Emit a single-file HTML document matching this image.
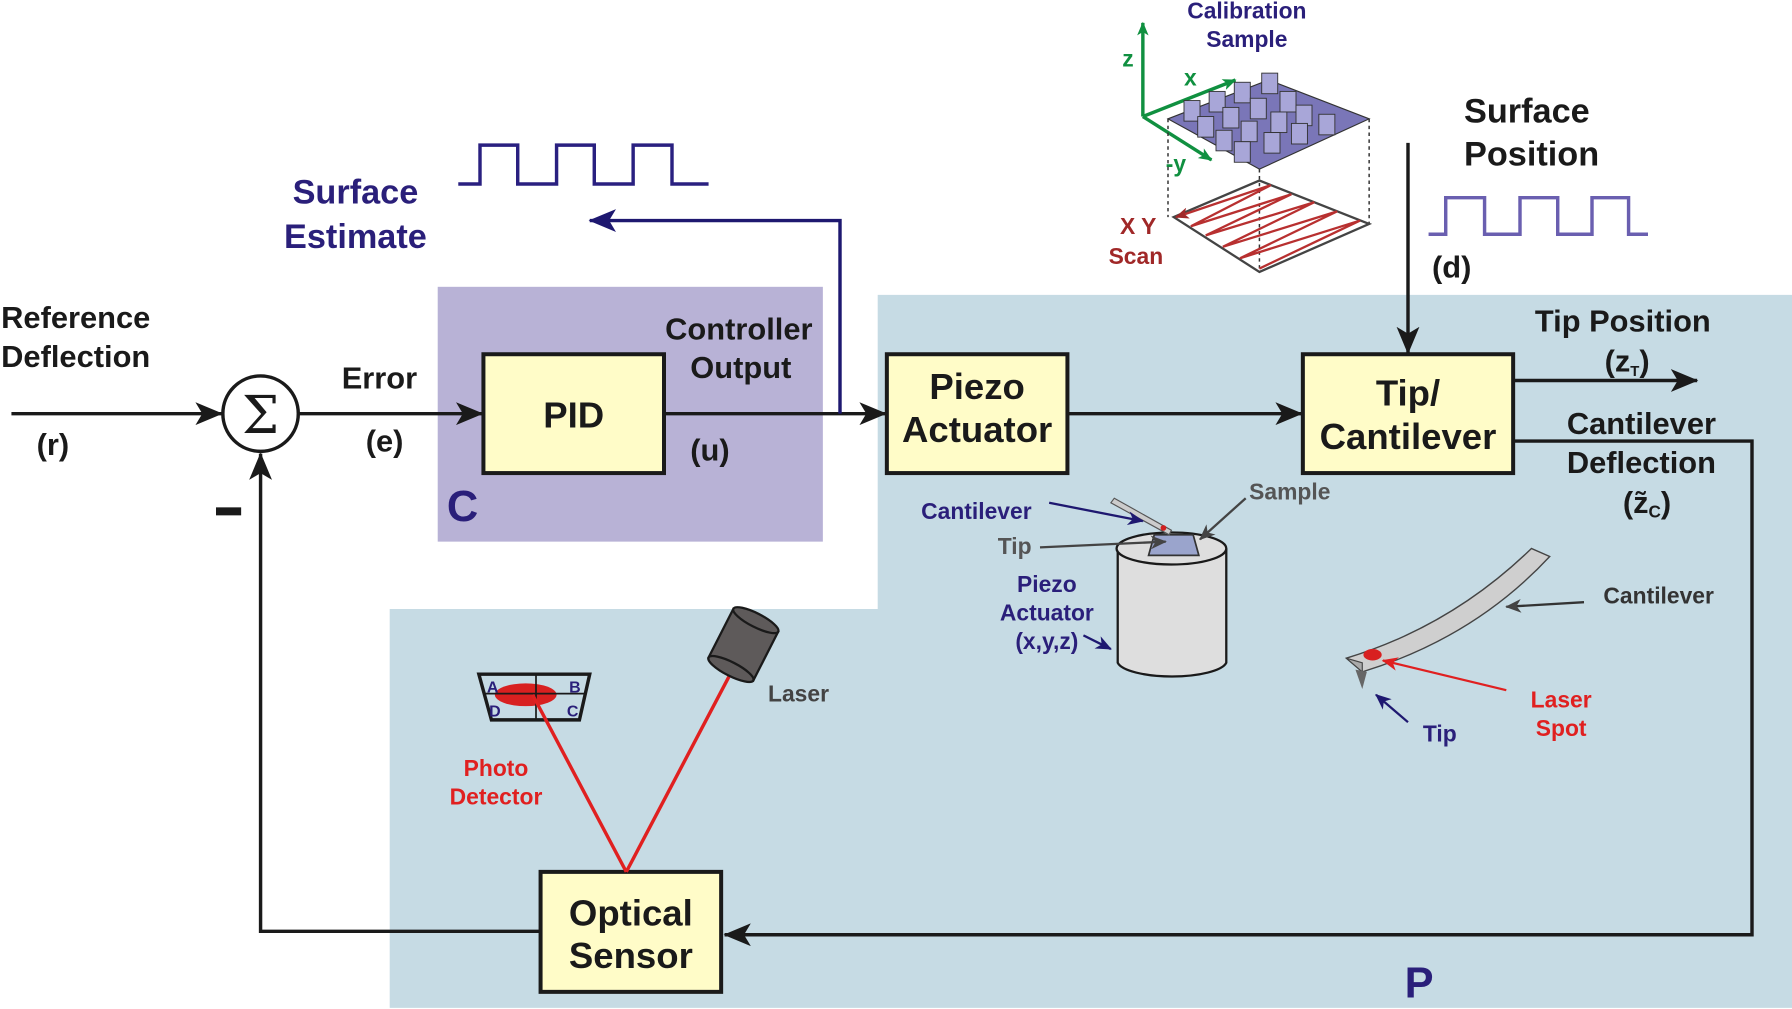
<!DOCTYPE html>
<html><head><meta charset="utf-8"><style>html,body{margin:0;padding:0;background:#fff}svg{display:block}</style></head>
<body>
<svg width="1792" height="1009" viewBox="0 0 1568 883" preserveAspectRatio="none" xmlns="http://www.w3.org/2000/svg" font-family="'Liberation Sans', sans-serif" font-weight="bold">
<defs>
<marker id="a" viewBox="0 0 24 20" markerWidth="24" markerHeight="20" refX="23" refY="10" orient="auto" markerUnits="userSpaceOnUse"><path d="M0,0 L24,10 L0,20 L6,10 Z" fill="#1a1a1a"/></marker>
<marker id="an" viewBox="0 0 24 20" markerWidth="24" markerHeight="20" refX="23" refY="10" orient="auto" markerUnits="userSpaceOnUse"><path d="M0,0 L24,10 L0,20 L6,10 Z" fill="#1e1870"/></marker>
<marker id="sn" viewBox="0 0 14 12" markerWidth="14" markerHeight="12" refX="13" refY="6" orient="auto" markerUnits="userSpaceOnUse"><path d="M0,0 L14,6 L0,12 L4,6 Z" fill="#1e1870"/></marker>
<marker id="sg" viewBox="0 0 14 12" markerWidth="14" markerHeight="12" refX="13" refY="6" orient="auto" markerUnits="userSpaceOnUse"><path d="M0,0 L14,6 L0,12 L4,6 Z" fill="#444"/></marker>
<marker id="sr" viewBox="0 0 14 12" markerWidth="14" markerHeight="12" refX="13" refY="6" orient="auto" markerUnits="userSpaceOnUse"><path d="M0,0 L14,6 L0,12 L4,6 Z" fill="#e02020"/></marker>
<marker id="sgr" viewBox="0 0 12 10" markerWidth="12" markerHeight="10" refX="11" refY="5" orient="auto" markerUnits="userSpaceOnUse"><path d="M0,0 L12,5 L0,10 L3,5 Z" fill="#109040"/></marker>
<marker id="sbr" viewBox="0 0 12 10" markerWidth="12" markerHeight="10" refX="11" refY="5" orient="auto" markerUnits="userSpaceOnUse"><path d="M0,0 L12,5 L0,10 L3,5 Z" fill="#a02828"/></marker>
</defs>

<polygon points="768,258 1568,258 1568,882 341,882 341,533 768,533" fill="#c6dbe4"/>
<rect x="383" y="251" width="337" height="223" fill="#b8b2d6"/>

<polyline points="401,161 420,161 420,127 453,127 453,161 487,161 487,127 520,127 520,161 554,161 554,127 588,127 588,161 620,161" fill="none" stroke="#2a2080" stroke-width="3"/>
<polyline points="1250,205 1265,205 1265,173 1299,173 1299,205 1330,205 1330,173 1363,173 1363,205 1393,205 1393,173 1425,173 1425,205 1442,205" fill="none" stroke="#6a5fb0" stroke-width="3"/>

<line x1="10" y1="362" x2="194" y2="362" stroke="#1a1a1a" stroke-width="3" marker-end="url(#a)"/>
<circle cx="228" cy="362" r="33" fill="#fff" stroke="#1a1a1a" stroke-width="3"/>
<text x="228" y="379" font-family="'DejaVu Serif', serif" font-weight="normal" font-size="46" text-anchor="middle" fill="#1a1a1a">Σ</text>
<line x1="262" y1="362" x2="422" y2="362" stroke="#1a1a1a" stroke-width="3" marker-end="url(#a)"/>
<line x1="581" y1="362" x2="775" y2="362" stroke="#1a1a1a" stroke-width="3" marker-end="url(#a)"/>
<polyline points="735,362 735,193 516,193" fill="none" stroke="#1e1870" stroke-width="3" marker-end="url(#an)"/>
<line x1="934" y1="362" x2="1139" y2="362" stroke="#1a1a1a" stroke-width="3" marker-end="url(#a)"/>
<line x1="1232" y1="125" x2="1232" y2="309" stroke="#1a1a1a" stroke-width="3" marker-end="url(#a)"/>
<line x1="1324" y1="333" x2="1485" y2="333" stroke="#1a1a1a" stroke-width="3" marker-end="url(#a)"/>
<polyline points="1324,386 1533,386 1533,818 634,818" fill="none" stroke="#1a1a1a" stroke-width="3" marker-end="url(#a)"/>
<polyline points="473,815 228,815 228,397" fill="none" stroke="#1a1a1a" stroke-width="3" marker-end="url(#a)"/>
<rect x="189" y="444" width="22" height="7" fill="#1a1a1a"/>

<g fill="#fffcc8" stroke="#1a1a1a" stroke-width="3.5">
<rect x="423" y="310" width="158" height="104"/>
<rect x="776" y="310" width="158" height="104"/>
<rect x="1140" y="310" width="184" height="104"/>
<rect x="473" y="763" width="158" height="105"/>
</g>
<g fill="#1a1a1a" text-anchor="middle">
<text x="502" y="374" font-size="32">PID</text>
<text x="855" y="349" font-size="32">Piezo</text>
<text x="855" y="387" font-size="32">Actuator</text>
<text x="1232" y="355" font-size="32">Tip/</text>
<text x="1232" y="393" font-size="32">Cantilever</text>
<text x="552" y="810" font-size="32">Optical</text>
<text x="552" y="847" font-size="32">Sensor</text>
</g>

<g fill="#1a1a1a" font-size="27">
<text x="1" y="287">Reference</text>
<text x="1" y="321">Deflection</text>
<text x="32" y="398">(r)</text>
<text x="299" y="340">Error</text>
<text x="320" y="395">(e)</text>
<text x="582" y="297">Controller</text>
<text x="604" y="331">Output</text>
<text x="604" y="403">(u)</text>
<text x="1281" y="107" font-size="30">Surface</text>
<text x="1281" y="145" font-size="30">Position</text>
<text x="1253" y="243">(d)</text>
<text x="1343" y="290">Tip Position</text>
<text x="1404" y="325">(z<tspan font-size="13" dy="4">T</tspan><tspan dy="-4">)</tspan></text>
<text x="1371" y="380">Cantilever</text>
<text x="1371" y="414">Deflection</text>
<text x="1420" y="449">(z̃<tspan font-size="15" dy="4">C</tspan><tspan dy="-4">)</tspan></text>
</g>
<g fill="#2a1f7a">
<text x="311" y="178" font-size="30" text-anchor="middle">Surface</text>
<text x="311" y="217" font-size="30" text-anchor="middle">Estimate</text>
<text x="391" y="456" font-size="38">C</text>
<text x="1229" y="873" font-size="38">P</text>
<text x="1091" y="16" font-size="20" text-anchor="middle">Calibration</text>
<text x="1091" y="41" font-size="20" text-anchor="middle">Sample</text>
</g>

<g stroke="#109040" stroke-width="3" fill="none">
<line x1="1000" y1="102" x2="1000" y2="20" marker-end="url(#sgr)"/>
<line x1="1000" y1="102" x2="1081" y2="70" marker-end="url(#sgr)"/>
<line x1="1000" y1="102" x2="1060" y2="140" marker-end="url(#sgr)"/>
</g>
<g fill="#109040" font-size="20"><text x="982" y="58">z</text><text x="1036" y="75">x</text><text x="1020" y="150">-y</text></g>
<g stroke="#333" stroke-width="1.3" stroke-dasharray="3,3" fill="none">
<line x1="1022" y1="104" x2="1022" y2="190"/><line x1="1198" y1="104" x2="1198" y2="196"/><line x1="1102" y1="148" x2="1102" y2="238"/>
</g>
<polygon points="1022,104 1110,70 1198,104 1102,148" fill="#7a76b8" stroke="#333" stroke-width="1"/>
<g fill="#a8a6d8" stroke="#333" stroke-width="0.8">
<rect x="1036" y="88" width="14" height="18"/><rect x="1058" y="80" width="14" height="18"/><rect x="1080" y="72" width="14" height="18"/><rect x="1104" y="64" width="14" height="18"/>
<rect x="1048" y="102" width="14" height="18"/><rect x="1070" y="94" width="14" height="18"/><rect x="1094" y="86" width="14" height="18"/><rect x="1120" y="80" width="14" height="18"/>
<rect x="1064" y="114" width="14" height="18"/><rect x="1086" y="106" width="14" height="18"/><rect x="1112" y="98" width="14" height="18"/><rect x="1134" y="92" width="14" height="18"/>
<rect x="1080" y="124" width="14" height="18"/><rect x="1106" y="116" width="14" height="18"/><rect x="1130" y="108" width="14" height="18"/><rect x="1154" y="100" width="14" height="18"/>
</g>
<polygon points="1027,190 1102,158 1198,196 1102,238" fill="none" stroke="#444" stroke-width="2"/>
<polyline points="1102,235 1190,193 1085,226 1170,185 1070,216 1150,177 1055,206 1130,170 1042,198 1112,162 1029,190" fill="none" stroke="#b83030" stroke-width="2" marker-end="url(#sbr)"/>
<g fill="#a02828" font-size="20"><text x="980" y="205">X Y</text><text x="970" y="231">Scan</text></g>

<path d="M978,480 L978,580 A48,14 0 0 0 1073,580 L1073,480" fill="#dedede" stroke="#1a1a1a" stroke-width="2"/>
<ellipse cx="1025" cy="480" rx="48" ry="14" fill="#dedede" stroke="#1a1a1a" stroke-width="2"/>
<polygon points="1010,468 1044,468 1049,486 1005,486" fill="#9aa4cc" stroke="#333" stroke-width="1.5"/>
<path d="M972,440 L975,436 L1025,464 L1023,468 Z" fill="#ccc" stroke="#555" stroke-width="1"/>
<circle cx="1018" cy="462" r="2.5" fill="#d02020"/>
<line x1="918" y1="440" x2="1000" y2="456" stroke="#1e1870" stroke-width="2" marker-end="url(#sn)"/>
<line x1="910" y1="479" x2="1020" y2="474" stroke="#444" stroke-width="2" marker-end="url(#sg)"/>
<line x1="1090" y1="436" x2="1050" y2="472" stroke="#444" stroke-width="2" marker-end="url(#sg)"/>
<line x1="948" y1="556" x2="972" y2="568" stroke="#1e1870" stroke-width="2" marker-end="url(#sn)"/>
<g font-size="20">
<text x="806" y="454" fill="#2a1f7a">Cantilever</text>
<text x="873" y="485" fill="#555">Tip</text>
<text x="1093" y="437" fill="#555">Sample</text>
<text x="916" y="518" fill="#2a1f7a" text-anchor="middle">Piezo</text>
<text x="916" y="543" fill="#2a1f7a" text-anchor="middle">Actuator</text>
<text x="916" y="568" fill="#2a1f7a" text-anchor="middle">(x,y,z)</text>
</g>

<path d="M1178,576 Q1270,548 1340,480 L1356,487 Q1290,558 1192,588 Z" fill="#cfcfcf" stroke="#444" stroke-width="1.2"/>
<path d="M1178,576 L1192,588 L1192,580 Z" fill="#aaa" stroke="#444" stroke-width="1"/>
<path d="M1186,586 L1192,603 L1196,588 Z" fill="#666"/>
<ellipse cx="1201" cy="573" rx="8" ry="5" fill="#d82020"/>
<line x1="1386" y1="527" x2="1318" y2="531" stroke="#333" stroke-width="2" marker-end="url(#sg)"/>
<line x1="1318" y1="604" x2="1210" y2="578" stroke="#e02020" stroke-width="2" marker-end="url(#sr)"/>
<line x1="1232" y1="632" x2="1204" y2="608" stroke="#1e1870" stroke-width="2" marker-end="url(#sn)"/>
<g font-size="20">
<text x="1403" y="528" fill="#333">Cantilever</text>
<text x="1366" y="619" fill="#e02020" text-anchor="middle">Laser</text>
<text x="1366" y="644" fill="#e02020" text-anchor="middle">Spot</text>
<text x="1245" y="649" fill="#2a1f7a">Tip</text>
</g>

<line x1="640" y1="588" x2="548" y2="763" stroke="#e02020" stroke-width="3"/>
<polygon points="419,590 516,590 507,630 430,630" fill="#c6dbe4" stroke="#1a1a1a" stroke-width="3"/>
<ellipse cx="460" cy="608" rx="27" ry="10" fill="#d82020"/>
<line x1="469" y1="590" x2="469" y2="630" stroke="#1a1a1a" stroke-width="1.5"/>
<line x1="423" y1="607" x2="512" y2="607" stroke="#1a1a1a" stroke-width="1.5"/>
<line x1="466" y1="608" x2="548" y2="763" stroke="#e02020" stroke-width="3"/>
<g fill="#2a1f7a" font-size="14"><text x="426" y="606">A</text><text x="498" y="606">B</text><text x="428" y="627">D</text><text x="496" y="627">C</text></g>
<g transform="rotate(27 650 565)">
<rect x="628" y="540" width="44" height="48" fill="#5e5a5a" stroke="#1a1a1a" stroke-width="2"/>
<ellipse cx="650" cy="588" rx="22" ry="6" fill="#5e5a5a" stroke="#1a1a1a" stroke-width="2"/>
<ellipse cx="650" cy="540" rx="22" ry="6" fill="#5e5a5a" stroke="#1a1a1a" stroke-width="2"/>
</g>
<text x="672" y="614" font-size="20" fill="#444">Laser</text>
<g fill="#e02020" font-size="20" text-anchor="middle"><text x="434" y="679">Photo</text><text x="434" y="704">Detector</text></g>
</svg>
</body></html>
